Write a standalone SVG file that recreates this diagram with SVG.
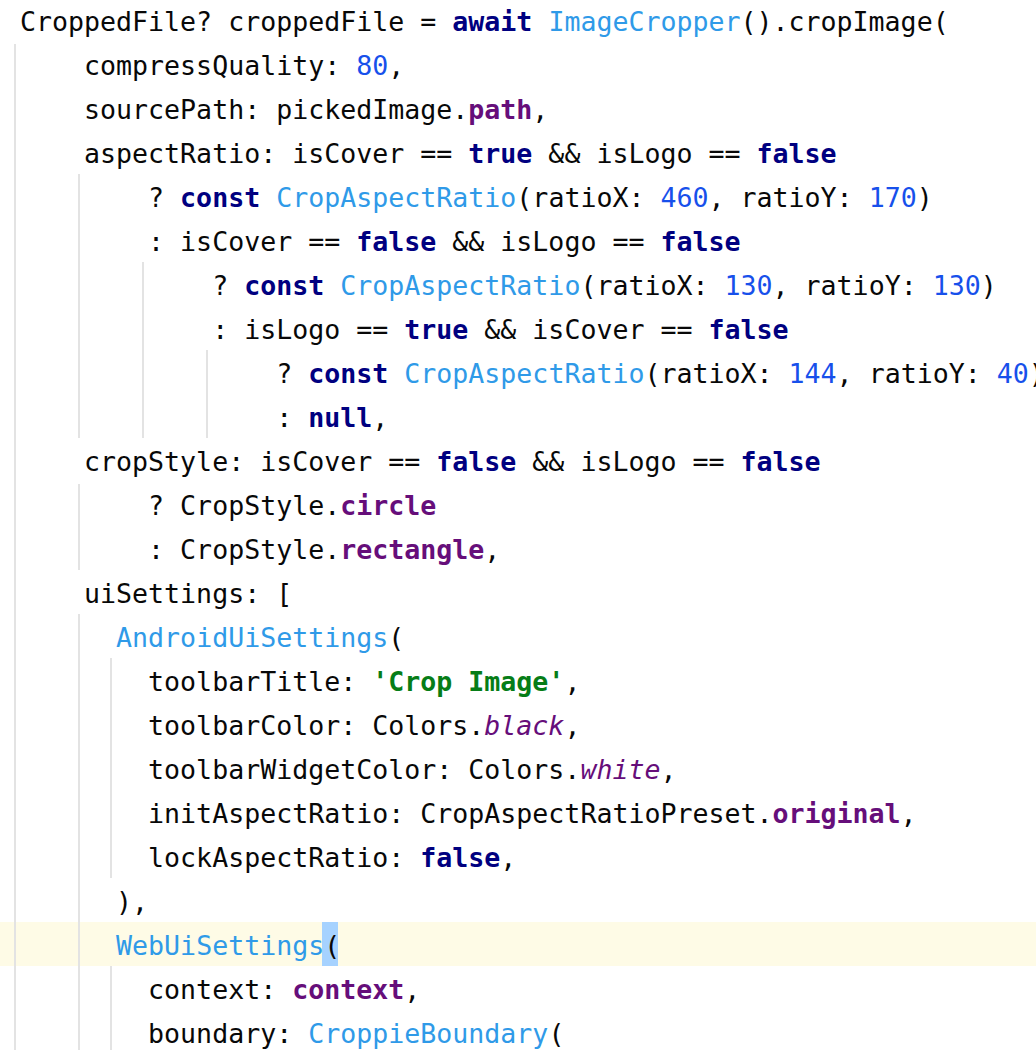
<svg xmlns="http://www.w3.org/2000/svg" width="1036" height="1050" viewBox="0 0 1036 1050">
<style>
text{font-family:"DejaVu Sans Mono","Liberation Mono",monospace;font-size:26.6px;fill:#080808;white-space:pre}
.k{fill:#0033b3;fill:#000080;font-weight:bold}
.c{fill:#2f9ae8}
.n{fill:#1750eb}
.p{fill:#660e7a;font-weight:bold}
.i{fill:#660e7a;font-style:italic}
.s{fill:#067d17;font-weight:bold}
.g{stroke:#e3e3e3;stroke-width:2}
</style>
<rect x="0" y="922" width="1036" height="44" fill="#fefbe6"/>
<rect x="322" y="922" width="16" height="44" fill="#a6d2ff"/>
<g id="guides">
<line class="g" x1="15" y1="44" x2="15" y2="1050"/>
<line class="g" x1="79" y1="174" x2="79" y2="438"/>
<line class="g" x1="143" y1="262" x2="143" y2="438"/>
<line class="g" x1="207" y1="350" x2="207" y2="438"/>
<line class="g" x1="79" y1="484" x2="79" y2="570"/>
<line class="g" x1="79" y1="614" x2="79" y2="1050"/>
<line class="g" x1="111" y1="658" x2="111" y2="878"/>
<line class="g" x1="111" y1="966" x2="111" y2="1050"/>
</g>
<g id="code" xml:space="preserve" textLength="0">
<text x="20" y="31">CroppedFile? croppedFile = <tspan class="k">await</tspan> <tspan class="c">ImageCropper</tspan>().cropImage(</text>
<text x="20" y="75">    compressQuality: <tspan class="n">80</tspan>,</text>
<text x="20" y="119">    sourcePath: pickedImage.<tspan class="p">path</tspan>,</text>
<text x="20" y="163">    aspectRatio: isCover == <tspan class="k">true</tspan> &amp;&amp; isLogo == <tspan class="k">false</tspan></text>
<text x="20" y="207">        ? <tspan class="k">const</tspan> <tspan class="c">CropAspectRatio</tspan>(ratioX: <tspan class="n">460</tspan>, ratioY: <tspan class="n">170</tspan>)</text>
<text x="20" y="251">        : isCover == <tspan class="k">false</tspan> &amp;&amp; isLogo == <tspan class="k">false</tspan></text>
<text x="20" y="295">            ? <tspan class="k">const</tspan> <tspan class="c">CropAspectRatio</tspan>(ratioX: <tspan class="n">130</tspan>, ratioY: <tspan class="n">130</tspan>)</text>
<text x="20" y="339">            : isLogo == <tspan class="k">true</tspan> &amp;&amp; isCover == <tspan class="k">false</tspan></text>
<text x="20" y="383">                ? <tspan class="k">const</tspan> <tspan class="c">CropAspectRatio</tspan>(ratioX: <tspan class="n">144</tspan>, ratioY: <tspan class="n">40</tspan>)</text>
<text x="20" y="427">                : <tspan class="k">null</tspan>,</text>
<text x="20" y="471">    cropStyle: isCover == <tspan class="k">false</tspan> &amp;&amp; isLogo == <tspan class="k">false</tspan></text>
<text x="20" y="515">        ? CropStyle.<tspan class="p">circle</tspan></text>
<text x="20" y="559">        : CropStyle.<tspan class="p">rectangle</tspan>,</text>
<text x="20" y="603">    uiSettings: [</text>
<text x="20" y="647">      <tspan class="c">AndroidUiSettings</tspan>(</text>
<text x="20" y="691">        toolbarTitle: <tspan class="s">'Crop Image'</tspan>,</text>
<text x="20" y="735">        toolbarColor: Colors.<tspan class="i">black</tspan>,</text>
<text x="20" y="779">        toolbarWidgetColor: Colors.<tspan class="i">white</tspan>,</text>
<text x="20" y="823">        initAspectRatio: CropAspectRatioPreset.<tspan class="p">original</tspan>,</text>
<text x="20" y="867">        lockAspectRatio: <tspan class="k">false</tspan>,</text>
<text x="20" y="911">      ),</text>
<text x="20" y="955">      <tspan class="c">WebUiSettings</tspan>(</text>
<text x="20" y="999">        context: <tspan class="p">context</tspan>,</text>
<text x="20" y="1043">        boundary: <tspan class="c">CroppieBoundary</tspan>(</text>
</g>
</svg>
